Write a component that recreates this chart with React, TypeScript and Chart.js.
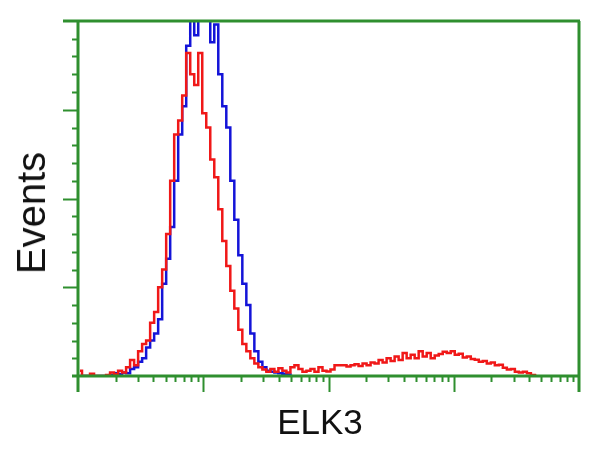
import { useEffect, useRef } from "react";
import { Chart, registerables } from "chart.js";

Chart.register(...registerables);

// x axis: 1000 log-channels covering 4 decades (10^0 .. 10^4)
const X_MAX = 1000;
const CHANNELS_PER_DECADE = 250;
const BIN_WIDTH = 8; // channels per histogram bin
const DECADES = [0, 1, 2, 3];
const DECADE_MULTIPLIERS = [1, 2, 3, 4, 5, 6, 7, 8, 9];

// y axis: events (0 .. 100), minor tick every 5, major every 25
const Y_MAX = 100;
const Y_MINOR_STEP = 5;
const Y_MAJOR_STEP = 25;

const X_TITLE = "ELK3";
const Y_TITLE = "Events";

// Red: ELK3-transfected cells (counts per bin, starting at channel 0)
const redCounts = [
  1.5, 0, 0, 0.6, 0, 0, 0, 0.3,
  1, 0.5, 1.5, 1, 2.5, 4.5, 3,
  7, 9, 10, 15, 18, 25, 30,
  40, 55, 68, 72, 79, 91, 85,
  82, 91, 74, 70, 61, 56, 47,
  38, 31, 24, 19, 13, 9, 7,
  5, 3.5, 2.5, 1.8, 1.2, 2, 1.2,
  2.2, 1.5, 1, 2.5, 3, 2, 1.2,
  1.5, 2, 1.2, 2.5, 1.5, 1.3, 1.8,
  3, 3, 3, 2.7, 3, 3.3, 2.8,
  3.5, 3, 3.8, 3.5, 4.5, 3.8, 5,
  4.2, 5.5, 4.5, 6.5, 5, 6, 5,
  7, 5.5, 6.5, 5, 5.8, 6.2, 6.8,
  6.5, 7, 6, 6.3, 5.2, 5.5, 4.8,
  4.6, 4, 4.2, 3.5, 3.8, 3, 3.2,
  2.3, 1.8, 2, 1.2, 1, 1.2, 0.8,
  0.3, 0,
];

// Blue: empty-vector control cells
const blueCounts = [
  0, 0, 0, 0, 0, 0, 0, 0,
  0.3, 0.8, 0.5, 1, 0.8, 2, 2.5,
  4, 5, 8, 10, 12, 16,
  26, 33, 42, 55, 68, 76, 93,
  108, 96, 112, 115, 110, 94, 99,
  85, 76, 70, 55, 44, 34, 26,
  20, 12, 7, 4, 2.5, 1.5, 1.2,
  1, 0.8, 0.6, 0.4, 0,
];

const GREEN = "#2f8f2f";
const RED = "#f01818";
const BLUE = "#1414d8";

const toPoints = (counts: number[]) =>
  counts.map((v, i) => ({ x: i * BIN_WIDTH + BIN_WIDTH / 2, y: v }));

const facsAxes = {
  id: "facsAxes",
  afterDatasetsDraw(chart: any) {
    const { ctx, chartArea, scales } = chart;
    const { left, right, top, bottom } = chartArea;
    const x = scales.x;
    const y = scales.y;
    ctx.save();
    ctx.strokeStyle = GREEN;
    ctx.lineCap = "butt";

    // frame
    ctx.lineWidth = 3;
    ctx.beginPath();
    ctx.moveTo(left - 15, top);
    ctx.lineTo(right + 1, top);
    ctx.moveTo(left, top);
    ctx.lineTo(left, bottom + 16);
    ctx.moveTo(right, top);
    ctx.lineTo(right, bottom + 16);
    ctx.moveTo(left - 6, bottom);
    ctx.lineTo(right + 1, bottom);
    ctx.stroke();

    // y ticks
    ctx.lineWidth = 2;
    ctx.beginPath();
    for (let v = Y_MINOR_STEP; v < Y_MAX; v += Y_MINOR_STEP) {
      const py = Math.round(y.getPixelForValue(v)) + 0.5;
      const len = v % Y_MAJOR_STEP === 0 ? 15 : 6;
      ctx.moveTo(left - len, py);
      ctx.lineTo(left, py);
    }
    ctx.stroke();

    // x ticks (logarithmic decades)
    ctx.beginPath();
    for (const d of DECADES) {
      for (const k of DECADE_MULTIPLIERS) {
        const ch = CHANNELS_PER_DECADE * (d + Math.log10(k));
        if (ch <= 0) continue;
        const px = Math.round(x.getPixelForValue(ch)) + 0.5;
        const len = k === 1 ? 16 : 6;
        ctx.moveTo(px, bottom);
        ctx.lineTo(px, bottom + len);
      }
    }
    ctx.stroke();
    ctx.restore();
  },
};

export default function App() {
  const canvasRef = useRef<HTMLCanvasElement | null>(null);

  useEffect(() => {
    if (!canvasRef.current) return;
    const chart = new Chart(canvasRef.current, {
      type: "line",
      data: {
        datasets: [
          {
            label: "ELK3",
            data: toPoints(redCounts),
            borderColor: RED,
            borderWidth: 2.5,
            pointRadius: 0,
            stepped: "middle",
            fill: false,
          },
          {
            label: "Control",
            data: toPoints(blueCounts),
            borderColor: BLUE,
            borderWidth: 2.5,
            pointRadius: 0,
            stepped: "middle",
            fill: false,
          },
        ],
      },
      options: {
        animation: false,
        responsive: true,
        maintainAspectRatio: false,
        layout: { padding: { left: 78, right: 21, top: 21, bottom: 74 } },
        plugins: { legend: { display: false }, tooltip: { enabled: false } },
        scales: {
          x: { type: "linear", min: 0, max: X_MAX, display: false },
          y: { type: "linear", min: 0, max: Y_MAX, display: false },
        },
      },
      plugins: [facsAxes],
    });
    return () => chart.destroy();
  }, []);

  const font = '"Liberation Sans", Arial, Helvetica, sans-serif';
  return (
    <div style={{ position: "absolute", left: 0, top: 0, width: 600, height: 450, background: "#fff" }}>
      <canvas ref={canvasRef} />
      <div
        style={{
          position: "absolute",
          left: 320,
          top: 421,
          transform: "translate(-50%, -50%)",
          fontFamily: font,
          fontSize: 35,
          lineHeight: 1,
          color: "#111",
          whiteSpace: "nowrap",
        }}
      >
        {X_TITLE}
      </div>
      <div
        style={{
          position: "absolute",
          left: 31,
          top: 213,
          transform: "translate(-50%, -50%) rotate(-90deg)",
          fontFamily: font,
          fontSize: 40,
          lineHeight: 1,
          color: "#111",
          whiteSpace: "nowrap",
        }}
      >
        {Y_TITLE}
      </div>
    </div>
  );
}
